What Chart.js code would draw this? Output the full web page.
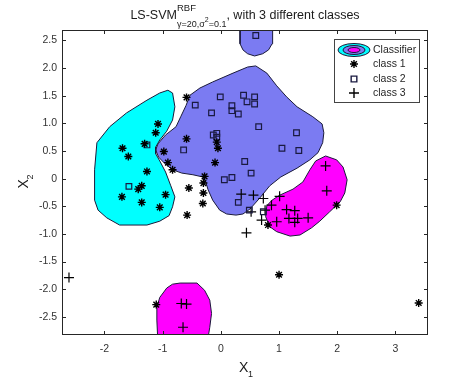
<!DOCTYPE html>
<html>
<head>
<meta charset="utf-8">
<script src="https://cdn.jsdelivr.net/npm/chart.js@4"></script>
<style>
html, body { margin: 0; padding: 0; background: #fff; }
canvas { display: block; }
</style>
</head>
<body>
<canvas id="chart" width="474" height="381"></canvas>
<script>
const FONT = '"Liberation Sans", Arial, Helvetica, sans-serif';

const xTicks = [-2, -1, 0, 1, 2, 3];
const yTicks = [-2.5, -2, -1.5, -1, -0.5, 0, 0.5, 1, 1.5, 2, 2.5];

// decision regions (outlines)
const cyanRegion = [
  [-0.91, 1.60], [-0.83, 1.55], [-0.79, 1.30], [-0.83, 1.06], [-0.93, 0.86], [-1.05, 0.70],
  [-1.12, 0.57], [-1.12, 0.45], [-1.05, 0.32], [-0.95, 0.12], [-0.86, -0.13], [-0.79, -0.33],
  [-0.83, -0.51], [-0.89, -0.67], [-1.05, -0.77], [-1.27, -0.84], [-1.74, -0.84], [-1.96, -0.71],
  [-2.11, -0.57], [-2.17, -0.39], [-2.17, 0.16], [-2.13, 0.65], [-1.91, 0.94], [-1.62, 1.19],
  [-1.27, 1.42], [-1.05, 1.55]
];
const blueRegion = [
  [0.60, 2.04], [0.79, 1.91], [0.96, 1.68], [1.13, 1.48], [1.31, 1.30], [1.58, 1.12],
  [1.74, 0.99], [1.77, 0.83], [1.75, 0.65], [1.67, 0.47], [1.53, 0.34], [1.31, 0.19],
  [1.03, 0.03], [0.84, -0.13], [0.67, -0.35], [0.50, -0.55], [0.38, -0.64], [0.26, -0.66],
  [0.10, -0.64], [-0.02, -0.57], [-0.14, -0.39], [-0.22, -0.20], [-0.26, -0.06], [-0.31, 0.03],
  [-0.48, 0.07], [-0.67, 0.10], [-0.83, 0.16], [-0.96, 0.27], [-1.07, 0.39], [-1.12, 0.52],
  [-1.08, 0.63], [-0.95, 0.79], [-0.77, 0.94], [-0.69, 1.12], [-0.60, 1.32], [-0.53, 1.51],
  [-0.36, 1.64], [-0.14, 1.75], [0.21, 1.91], [0.46, 2.02]
];
const blueTopRegion = [
  [0.33, 2.80], [0.33, 2.44], [0.38, 2.33], [0.46, 2.26], [0.58, 2.22], [0.72, 2.26],
  [0.82, 2.33], [0.88, 2.44], [0.89, 2.58], [0.89, 2.80]
];
const magentaRegion = [
  [1.80, 0.41], [1.99, 0.34], [2.10, 0.21], [2.17, -0.02], [2.13, -0.26], [2.05, -0.42],
  [1.87, -0.60], [1.70, -0.77], [1.56, -0.89], [1.36, -1.02], [1.19, -1.04], [0.96, -0.96],
  [0.84, -0.87], [0.77, -0.69], [0.79, -0.49], [0.88, -0.39], [1.01, -0.30], [1.24, -0.19],
  [1.41, -0.06], [1.53, 0.16], [1.63, 0.32]
];
const magentaLowRegion = [
  [-1.08, -3.00], [-1.10, -2.56], [-1.10, -2.33], [-1.05, -2.15], [-0.93, -1.98], [-0.83, -1.91],
  [-0.70, -1.89], [-0.41, -1.89], [-0.28, -2.02], [-0.19, -2.20], [-0.16, -2.44], [-0.19, -2.69],
  [-0.24, -3.00]
];

// samples
const class1 = [
  [-0.59, 1.47], [-1.08, 0.99], [-1.12, 0.83], [-1.69, 0.55], [-1.59, 0.40], [-1.31, 0.63],
  [-1.27, 0.13], [-1.36, -0.13], [-1.42, -0.19], [-1.70, -0.33], [-0.95, -0.29], [-1.36, -0.43],
  [-1.05, -0.52], [-0.98, 0.49], [-0.91, 0.29], [-0.83, 0.16], [-0.59, 0.72], [-0.07, 0.66],
  [-0.05, 0.55], [-0.10, 0.29], [-0.28, 0.04], [-0.30, -0.08], [-0.55, -0.17], [-0.30, -0.26],
  [-0.31, -0.45], [-0.58, -0.66], [1.00, -1.74], [3.40, -2.25], [1.99, -0.48], [0.81, -0.84],
  [-1.11, -2.28]
];
const class2 = [
  [0.60, 2.59], [-0.44, 1.33], [-0.16, 1.19], [-0.01, 1.48], [0.19, 1.32], [0.19, 1.23],
  [0.30, 1.17], [0.39, 1.51], [0.45, 1.39], [0.58, 1.48], [0.58, 1.35], [0.65, 0.94],
  [-0.13, 0.79], [-0.07, 0.82], [-0.07, 0.75], [-0.64, 0.52], [0.41, 0.31], [0.52, 0.10],
  [0.06, -0.02], [0.19, 0.02], [-1.27, 0.61], [-1.58, -0.14], [1.30, 0.83], [1.05, 0.55],
  [1.34, 0.51], [0.30, -0.43], [0.49, -0.57], [0.73, -0.60]
];
const class3 = [
  [0.35, -0.28], [0.56, -0.30], [0.73, -0.36], [1.01, -0.32], [0.87, -0.48], [0.76, -0.57],
  [0.52, -0.60], [0.70, -0.75], [1.13, -0.56], [1.27, -0.58], [1.17, -0.72], [1.32, -0.72],
  [1.27, -0.79], [1.50, -0.71], [0.96, -0.78], [1.80, 0.23], [1.82, -0.22], [0.44, -0.98],
  [-2.61, -1.79], [-0.68, -2.26], [-0.59, -2.27], [-0.65, -2.69]
];

const CYAN = '#00ffff';
const BLUE = '#7b7bf2';
const MAGENTA = '#ff00ff';
const EDGE = '#1a1a3a';

const toXY = (pts) => pts.map(([x, y]) => ({ x, y }));
const closed = (pts) => toXY(pts.concat([pts[0]]));

function region(pts, color) {
  return {
    data: closed(pts),
    fill: 'shape',
    backgroundColor: color,
    borderColor: EDGE,
    borderWidth: 1,
    pointRadius: 0,
    tension: 0,
    order: 1,
  };
}

function samples(pts, style, radius, color, width) {
  return {
    data: toXY(pts),
    showLine: false,
    pointStyle: style,
    pointRadius: radius,
    pointBorderColor: color,
    pointBackgroundColor: 'rgba(0,0,0,0)',
    pointBorderWidth: width,
    order: 0,
  };
}

function drawMarker(ctx, style, x, y, r) {
  ctx.beginPath();
  if (style === 'star') {
    const d = r * Math.SQRT1_2;
    ctx.moveTo(x - r, y); ctx.lineTo(x + r, y);
    ctx.moveTo(x, y - r); ctx.lineTo(x, y + r);
    ctx.moveTo(x - d, y - d); ctx.lineTo(x + d, y + d);
    ctx.moveTo(x - d, y + d); ctx.lineTo(x + d, y - d);
  } else if (style === 'rect') {
    const s = r * Math.SQRT1_2;
    ctx.rect(x - s, y - s, 2 * s, 2 * s);
  } else {
    ctx.moveTo(x - r, y); ctx.lineTo(x + r, y);
    ctx.moveTo(x, y - r); ctx.lineTo(x, y + r);
  }
  ctx.stroke();
}

const decorations = {
  id: 'decorations',
  afterDatasetsDraw(chart) {
    const { ctx, chartArea: a, scales: { x, y } } = chart;
    ctx.save();
    // box + inward ticks
    ctx.strokeStyle = '#262626';
    ctx.lineWidth = 1;
    ctx.strokeRect(a.left + 0.5, a.top + 0.5, a.right - a.left - 1, a.bottom - a.top - 1);
    ctx.beginPath();
    xTicks.forEach((v) => {
      const px = Math.round(x.getPixelForValue(v)) + 0.5;
      ctx.moveTo(px, a.bottom); ctx.lineTo(px, a.bottom - 4);
      ctx.moveTo(px, a.top); ctx.lineTo(px, a.top + 4);
    });
    yTicks.forEach((v) => {
      const py = Math.round(y.getPixelForValue(v)) + 0.5;
      ctx.moveTo(a.left, py); ctx.lineTo(a.left + 4, py);
      ctx.moveTo(a.right, py); ctx.lineTo(a.right - 4, py);
    });
    ctx.stroke();

    // legend
    const lx = 334, ly = 39, lw = 85, lh = 63;
    ctx.fillStyle = '#fff';
    ctx.fillRect(lx, ly, lw, lh);
    ctx.strokeStyle = '#444';
    ctx.strokeRect(lx + 0.5, ly + 0.5, lw, lh);
    const ix = 354;
    ctx.lineWidth = 1;
    ctx.strokeStyle = EDGE;
    [[16, 6.5, CYAN], [11, 4.5, BLUE], [6, 2.5, MAGENTA]].forEach(([rx, ry, c]) => {
      ctx.beginPath();
      ctx.ellipse(ix, 50, rx, ry, 0, 0, Math.PI * 2);
      ctx.fillStyle = c;
      ctx.fill();
      ctx.stroke();
    });
    ctx.lineWidth = 1.4;
    ctx.strokeStyle = '#000';
    drawMarker(ctx, 'star', ix, 64, 4);
    ctx.strokeStyle = '#1a1a40';
    drawMarker(ctx, 'rect', ix, 79, 4);
    ctx.strokeStyle = '#000';
    drawMarker(ctx, 'cross', ix, 93, 5);
    ctx.fillStyle = '#262626';
    ctx.font = '10.5px ' + FONT;
    ctx.textBaseline = 'middle';
    ctx.textAlign = 'left';
    ctx.fillText('Classifier', 373, 50);
    ctx.fillText('class 1', 373, 64);
    ctx.fillText('class 2', 373, 79);
    ctx.fillText('class 3', 373, 93);
    ctx.restore();
  },
  afterDraw(chart) {
    const { ctx, chartArea: a } = chart;
    ctx.save();
    ctx.fillStyle = '#1a1a1a';
    ctx.textBaseline = 'alphabetic';
    ctx.textAlign = 'left';
    // title
    const big = '12.5px ' + FONT, sup = '9.5px ' + FONT, sub = '9px ' + FONT, tiny = '7px ' + FONT;
    const w = (f, t) => { ctx.font = f; return ctx.measureText(t).width; };
    const wMain1 = w(big, 'LS-SVM');
    const wSup = w(sup, 'RBF');
    const wSub = w(sub, '\u03b3=20,\u03c3') + w(tiny, '2') + w(sub, '=0.1');
    const wMain2 = w(big, ', with 3 different classes');
    const total = wMain1 + Math.max(wSup, wSub) + wMain2;
    let tx = (a.left + a.right) / 2 - total / 2;
    ctx.font = big; ctx.fillText('LS-SVM', tx, 19);
    tx += wMain1;
    ctx.font = sup; ctx.fillText('RBF', tx, 11);
    let sx = tx;
    ctx.font = sub; ctx.fillText('\u03b3=20,\u03c3', sx, 27);
    sx += w(sub, '\u03b3=20,\u03c3');
    ctx.font = tiny; ctx.fillText('2', sx, 22);
    sx += w(tiny, '2');
    ctx.font = sub; ctx.fillText('=0.1', sx, 27);
    tx += Math.max(wSup, wSub);
    ctx.font = big; ctx.fillText(', with 3 different classes', tx, 19);

    // axis labels
    const cx = (a.left + a.right) / 2;
    ctx.font = '14px ' + FONT;
    ctx.fillText('X', cx - 6, 372);
    ctx.font = '9px ' + FONT;
    ctx.fillText('1', cx + 3, 377);
    ctx.translate(28, (a.top + a.bottom) / 2);
    ctx.rotate(-Math.PI / 2);
    ctx.font = '14px ' + FONT;
    ctx.fillText('X', -6, 0);
    ctx.font = '9px ' + FONT;
    ctx.fillText('2', 3, 5);
    ctx.restore();
  },
};

new Chart(document.getElementById('chart'), {
  type: 'line',
  data: {
    datasets: [
      samples(class1, 'star', 4, '#000', 1.4),
      samples(class2, 'rect', 4, '#1a1a40', 1.2),
      samples(class3, 'cross', 5, '#000', 1.2),
      region(cyanRegion, CYAN),
      region(blueRegion, BLUE),
      region(blueTopRegion, BLUE),
      region(magentaRegion, MAGENTA),
      region(magentaLowRegion, MAGENTA),
    ],
  },
  options: {
    responsive: false,
    animation: false,
    devicePixelRatio: 1,
    layout: { padding: { top: 30, right: 46, left: 0, bottom: 0 } },
    plugins: { legend: { display: false }, tooltip: { enabled: false } },
    scales: {
      x: {
        type: 'linear',
        min: -2.73,
        max: 3.56,
        afterBuildTicks: (s) => { s.ticks = xTicks.map((v) => ({ value: v })); },
        afterFit: (s) => { s.height = 46; },
        grid: { display: false, drawTicks: false },
        border: { display: false },
        ticks: { padding: 8, color: '#333', font: { family: FONT, size: 10.5 } },
      },
      y: {
        type: 'linear',
        min: -2.83,
        max: 2.69,
        afterBuildTicks: (s) => { s.ticks = yTicks.map((v) => ({ value: v })); },
        afterFit: (s) => { s.width = 62; },
        grid: { display: false, drawTicks: false },
        border: { display: false },
        ticks: { padding: 5, color: '#333', font: { family: FONT, size: 10.5 } },
      },
    },
  },
  plugins: [decorations],
});
</script>
</body>
</html>
